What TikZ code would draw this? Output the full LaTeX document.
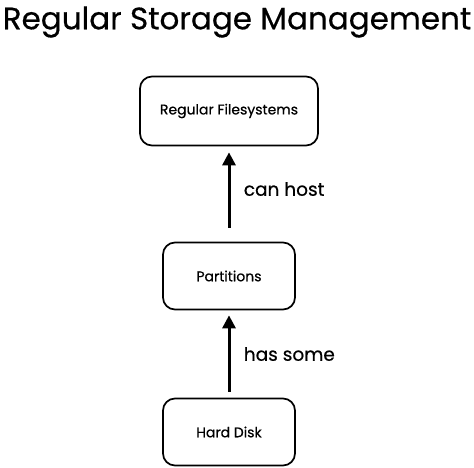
\documentclass[tikz,border=0pt]{standalone}
\usepackage{fontspec}
\setmainfont{Poppins}[FakeBold=0.5]
\usetikzlibrary{arrows.meta}
\begin{document}
\begin{tikzpicture}[x=1pt,y=-1pt,
  box/.style={draw=black,line width=1.7pt,rounded corners=12pt,fill=white,
    minimum width=#1,inner sep=0pt,font=\fontsize{14}{16}\selectfont},
  conn/.style={line width=3pt,-{Triangle[length=13pt,width=13pt]}},
  lbl/.style={font=\fontsize{18.5}{20}\selectfont,anchor=west}]
\useasboundingbox (0,0) rectangle (474,468);
\node (title) at (237,22) {\fontsize{31}{34}\selectfont Regular Storage Management};
\node[box=178pt,minimum height=69pt] (fs) at (229,111) {Regular Filesystems};
\node[box=132pt,minimum height=67pt] (part) at (229,276) {Partitions};
\node[box=132pt,minimum height=67pt] (disk) at (229,432) {Hard Disk};
\draw[conn,shorten <=14pt,shorten >=6pt] (part.north) -- (fs.south)
  node[lbl,midway,xshift=10pt,yshift=5pt] (l1) {can host};
\draw[conn,shorten <=6pt,shorten >=5pt] (disk.north) -- (part.south)
  node[lbl,midway,xshift=10pt] (l2) {has some};
\end{tikzpicture}
\end{document}
